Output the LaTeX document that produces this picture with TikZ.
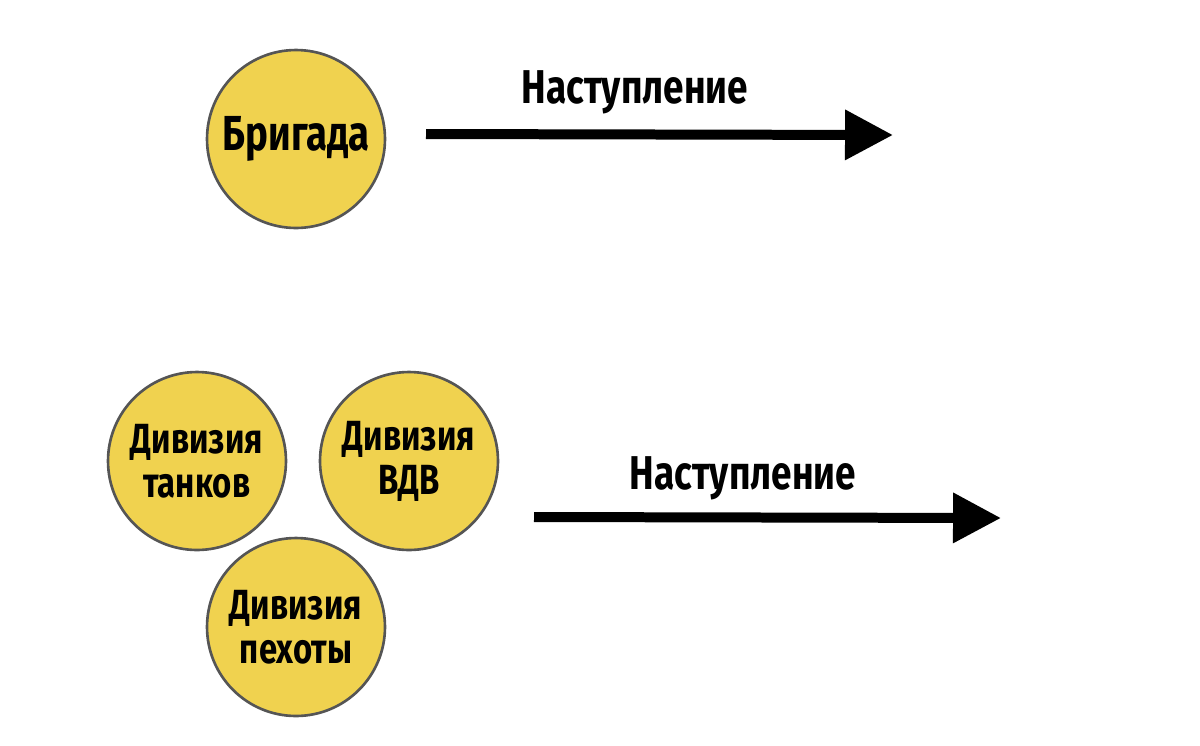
\documentclass[tikz,border=0pt]{standalone}
\usepackage{fontspec}
\setmainfont{Fira Sans}[FakeStretch=0.78]
\usetikzlibrary{arrows.meta}
\definecolor{unitfill}{HTML}{F0D24F}
\definecolor{unitdraw}{HTML}{555555}
\tikzset{
  unit/.style={circle,draw=unitdraw,line width=1.5pt,fill=unitfill,minimum size=3.56cm,inner sep=0pt,align=center,font=\fontsize{24}{25}\selectfont\bfseries},
  bigarrow/.style={line width=0.2cm,-{Triangle[length=0.96cm,width=0.96cm]}},
  lbl/.style={font=\fontsize{27}{28}\selectfont\bfseries}
}
\begin{document}
\begin{tikzpicture}[x=0.02cm,y=-0.02cm]
\useasboundingbox (0,0) rectangle (1200,745);
\node[unit,font=\fontsize{28}{29}\selectfont\bfseries] (brig) at (296,139) {Бригада};
\coordinate (a1s) at (426,134);
\coordinate (a1e) at (893,135);
\draw[bigarrow] (a1s) -- (a1e);
\node[lbl] (l1) at (635,92) {Наступление};
\node[unit] (tank) at (197,461) {Дивизия\\танков};
\node[unit] (vdv) at (409,461) {Дивизия\\ВДВ};
\node[unit] (inf) at (296,627) {Дивизия\\пехоты};
\coordinate (a2s) at (534,517);
\coordinate (a2e) at (1001,518);
\draw[bigarrow] (a2s) -- (a2e);
\node[lbl] (l2) at (743,478) {Наступление};
\end{tikzpicture}
\end{document}
